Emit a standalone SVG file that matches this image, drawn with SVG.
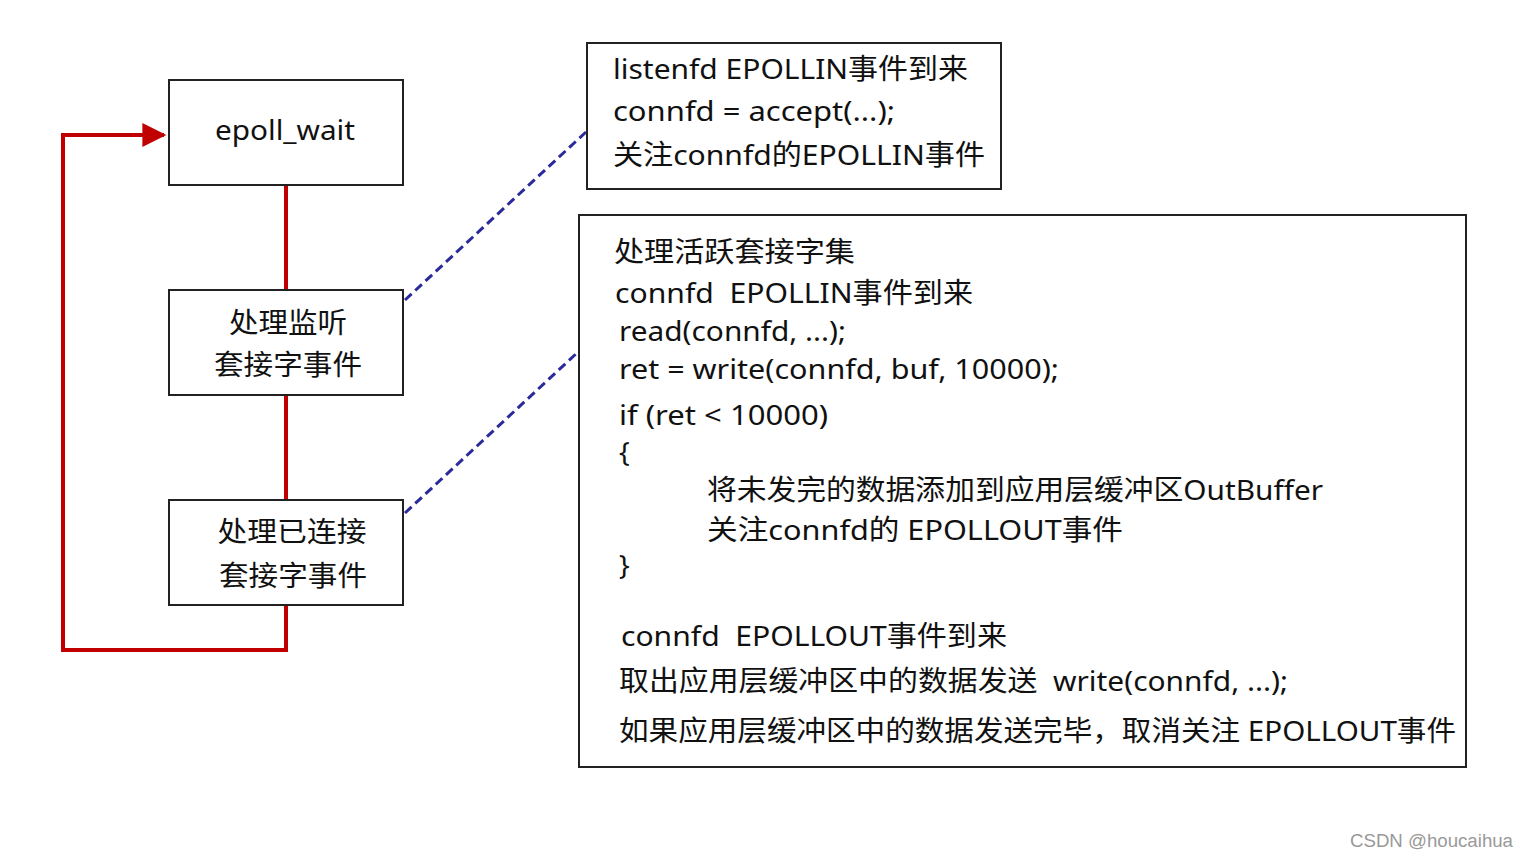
<svg xmlns="http://www.w3.org/2000/svg" width="1528" height="858" viewBox="0 0 1528 858">
<style>
.box{fill:#fff;stroke:#222;stroke-width:2}
.t{font-family:"Noto Sans","Noto Sans CJK SC",sans-serif;font-size:28px;fill:#111;white-space:pre}
.c{text-anchor:middle}
.red{fill:none;stroke:#c00000;stroke-width:4}
.dash{fill:none;stroke:#2a2a9a;stroke-width:3;stroke-dasharray:9,5}
.wm{font-family:"Liberation Sans",Arial,sans-serif;font-size:18px;fill:#999}
</style>
<defs>
<marker id="arr" viewBox="0 0 10 10" refX="9" refY="5" markerWidth="6.5" markerHeight="6" markerUnits="strokeWidth" orient="auto">
<path d="M0,0 L10,5 L0,10 z" fill="#c00000"/>
</marker>
</defs>
<rect width="1528" height="858" fill="#fff"/>
<g id="connectors">
<path class="red" d="M286,185 V290 M286,395 V500"/>
<path class="red" d="M286,605 V650 H63 V135 H164" marker-end="url(#arr)"/>
<path class="dash" d="M405,300 L586,132"/>
<path class="dash" d="M405,513 L578,352"/>
</g>
<g id="node-epoll-wait">
<rect class="box" x="169" y="80" width="234" height="105"/>
<text class="t c" x="285" y="140" textLength="140" lengthAdjust="spacingAndGlyphs">epoll_wait</text>
</g>
<g id="node-listen">
<rect class="box" x="169" y="290" width="234" height="105"/>
<text class="t c" x="288" y="333" textLength="118" lengthAdjust="spacingAndGlyphs">处理监听</text>
<text class="t c" x="288" y="375" textLength="148" lengthAdjust="spacingAndGlyphs">套接字事件</text>
</g>
<g id="node-connected">
<rect class="box" x="169" y="500" width="234" height="105"/>
<text class="t c" x="292" y="542" textLength="149" lengthAdjust="spacingAndGlyphs">处理已连接</text>
<text class="t c" x="293" y="586" textLength="148" lengthAdjust="spacingAndGlyphs">套接字事件</text>
</g>
<g id="node-listen-detail">
<rect class="box" x="587" y="43" width="414" height="146"/>
<text class="t" x="613" y="79" textLength="355" lengthAdjust="spacingAndGlyphs">listenfd EPOLLIN事件到来</text>
<text class="t" x="613" y="121" textLength="282" lengthAdjust="spacingAndGlyphs">connfd = accept(...);</text>
<text class="t" x="613" y="165" textLength="372" lengthAdjust="spacingAndGlyphs">关注connfd的EPOLLIN事件</text>
</g>
<g id="node-conn-detail">
<rect class="box" x="579" y="215" width="887" height="552"/>
<text class="t" x="614" y="262" textLength="241" lengthAdjust="spacingAndGlyphs">处理活跃套接字集</text>
<text class="t" x="615" y="303" textLength="358" lengthAdjust="spacingAndGlyphs">connfd  EPOLLIN事件到来</text>
<text class="t" x="619" y="341" textLength="227" lengthAdjust="spacingAndGlyphs">read(connfd, ...);</text>
<text class="t" x="619" y="379" textLength="440" lengthAdjust="spacingAndGlyphs">ret = write(connfd, buf, 10000);</text>
<text class="t" x="619" y="425" textLength="209" lengthAdjust="spacingAndGlyphs">if (ret &lt; 10000)</text>
<text class="t" x="619" y="462">{</text>
<text class="t" x="707" y="500" textLength="616" lengthAdjust="spacingAndGlyphs">将未发完的数据添加到应用层缓冲区OutBuffer</text>
<text class="t" x="707" y="540" textLength="416" lengthAdjust="spacingAndGlyphs">关注connfd的 EPOLLOUT事件</text>
<text class="t" x="619" y="575">}</text>
<text class="t" x="621" y="646" textLength="386" lengthAdjust="spacingAndGlyphs">connfd  EPOLLOUT事件到来</text>
<text class="t" x="619" y="691" textLength="669" lengthAdjust="spacingAndGlyphs">取出应用层缓冲区中的数据发送  write(connfd, ...);</text>
<text class="t" x="619" y="741" textLength="837" lengthAdjust="spacingAndGlyphs">如果应用层缓冲区中的数据发送完毕，取消关注 EPOLLOUT事件</text>
</g>
<text class="wm" x="1350" y="847" textLength="163" lengthAdjust="spacingAndGlyphs">CSDN @houcaihua</text>
</svg>
